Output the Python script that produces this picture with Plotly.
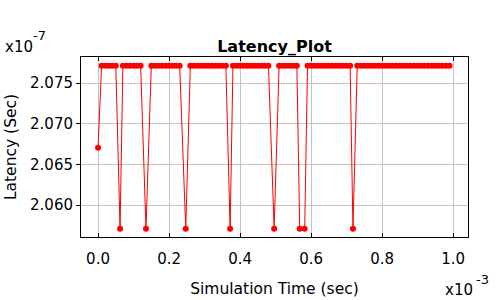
import plotly.graph_objects as go

# Simulation time in units of 1e-3 s
sim_time_ms = [
    0.000,
    0.010, 0.020, 0.030, 0.040, 0.050,
    0.062,
    0.070, 0.080, 0.090, 0.100, 0.110, 0.120,
    0.135,
    0.150, 0.160, 0.170, 0.180, 0.190, 0.200, 0.210, 0.220, 0.230,
    0.247,
    0.260, 0.270, 0.280, 0.290, 0.300, 0.310, 0.320, 0.330, 0.340, 0.350, 0.360,
    0.372,
    0.380, 0.390, 0.400, 0.410, 0.420, 0.430, 0.440, 0.450, 0.460, 0.470, 0.480,
    0.496,
    0.510, 0.520, 0.530, 0.540, 0.550, 0.560,
    0.568, 0.582,
    0.590, 0.600, 0.610, 0.620, 0.630, 0.640, 0.650, 0.660, 0.670, 0.680, 0.690, 0.700, 0.710,
    0.718,
    0.730, 0.740, 0.750, 0.760, 0.770, 0.780, 0.790, 0.800, 0.810, 0.820, 0.830, 0.840, 0.850,
    0.860, 0.870, 0.880, 0.890, 0.900, 0.910, 0.920, 0.930, 0.940, 0.950, 0.960, 0.970, 0.980, 0.990,
]

# Latency in units of 1e-7 s
H = 2.07713
L = 2.05709
latency_e7 = [
    2.06704,
    H, H, H, H, H,
    L,
    H, H, H, H, H, H,
    L,
    H, H, H, H, H, H, H, H, H,
    L,
    H, H, H, H, H, H, H, H, H, H, H,
    L,
    H, H, H, H, H, H, H, H, H, H, H,
    L,
    H, H, H, H, H, H,
    L, L,
    H, H, H, H, H, H, H, H, H, H, H, H, H,
    L,
    H, H, H, H, H, H, H, H, H, H, H, H, H,
    H, H, H, H, H, H, H, H, H, H, H, H, H, H,
]

y_ticks = [2.060, 2.065, 2.070, 2.075]
y_range = [2.05607, 2.0782]
x_range = [-0.048, 1.042]

fig = go.Figure()
fig.add_trace(go.Scatter(
    x=sim_time_ms, y=latency_e7, mode="lines+markers",
    line=dict(color="#ff0000", width=1),
    marker=dict(color="#ff0000", size=6),
    hoverinfo="skip",
))

fig.update_layout(
    width=500, height=300,
    margin=dict(l=81, r=32, t=57, b=63),
    plot_bgcolor="white", paper_bgcolor="white",
    showlegend=False,
    font=dict(family="DejaVu Sans", color="black", size=15),
    title=dict(text="<b>Latency_Plot</b>", font=dict(size=16, family="DejaVu Sans", color="black"),
               x=0.549, xanchor="center", xref="container",
               y=1 - 46 / 300, yanchor="middle", yref="container"),
    xaxis=dict(
        range=x_range, tick0=0, dtick=0.2, tickformat=".1f", automargin=False,
        ticks="inside", ticklen=4, tickcolor="black",
        showline=True, linecolor="black", linewidth=1, mirror="ticks",
        showgrid=True, gridcolor="#c4c4c4", gridwidth=1, zeroline=False,
        tickfont=dict(size=15), ticklabelstandoff=8,
        title=dict(text="Simulation Time (sec)", font=dict(size=15.5), standoff=16),
    ),
    yaxis=dict(
        range=y_range, tickvals=y_ticks, tickformat=".3f", automargin=False,
        ticks="outside", ticklen=4, tickcolor="black",
        showline=True, linecolor="black", linewidth=1, mirror=True,
        showgrid=True, gridcolor="#c4c4c4", gridwidth=1, zeroline=False,
        tickfont=dict(size=15),
        title=dict(text="Latency (Sec)", font=dict(size=15.5), standoff=9),
    ),
    yaxis2=dict(
        overlaying="y", side="right", range=y_range, tickvals=y_ticks, automargin=False,
        ticks="inside", ticklen=4, tickcolor="black",
        showticklabels=False, showgrid=False, showline=False, zeroline=False,
    ),
    annotations=[
        dict(text="x10", xref="paper", yref="paper", x=(3 - 81) / 387, y=(237 - 47) / 180,
             xanchor="left", yanchor="middle", showarrow=False, font=dict(size=15)),
        dict(text="-7", xref="paper", yref="paper", x=(31 - 81) / 387, y=(237 - 36) / 180,
             xanchor="left", yanchor="middle", showarrow=False, font=dict(size=13)),
        dict(text="x10", xref="paper", yref="paper", x=(443 - 81) / 387, y=(237 - 290) / 180,
             xanchor="left", yanchor="middle", showarrow=False, font=dict(size=15)),
        dict(text="-3", xref="paper", yref="paper", x=(474 - 81) / 387, y=(237 - 279) / 180,
             xanchor="left", yanchor="middle", showarrow=False, font=dict(size=13)),
    ],
)

fig.write_html("out.html")
